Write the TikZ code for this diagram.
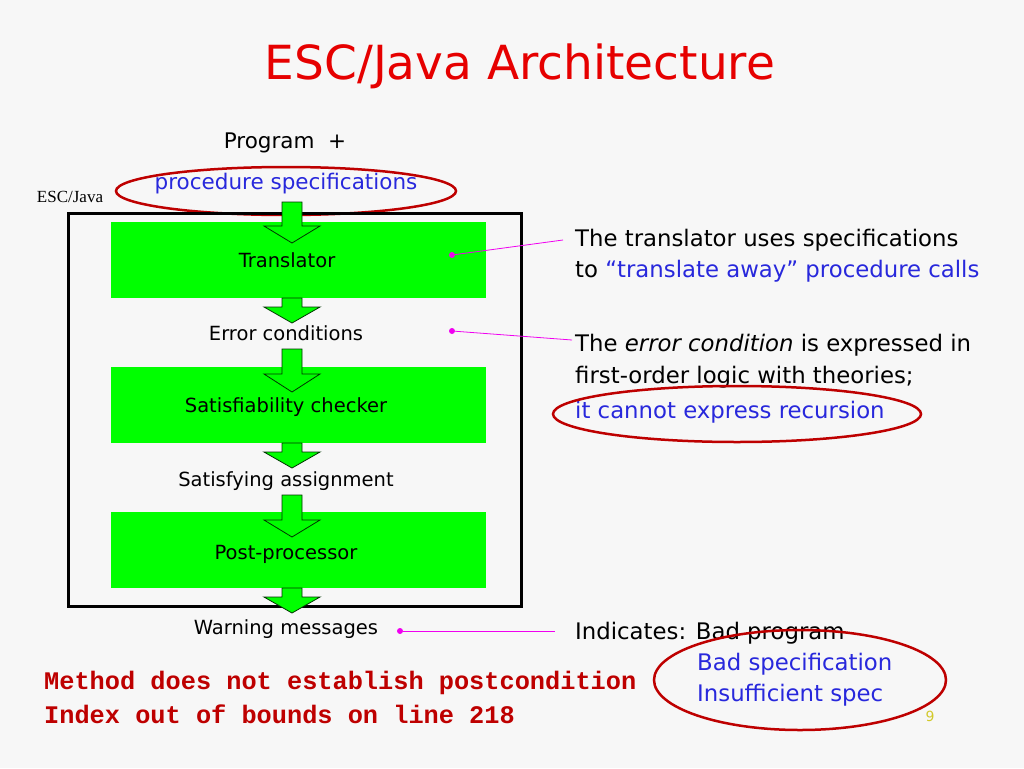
\documentclass[tikz,border=0pt]{standalone}
\usepackage{fontspec}
\setmainfont{DejaVu Sans}
\setmonofont{Liberation Mono}
\newfontfamily\serifesc{Liberation Serif}
\usetikzlibrary{shapes.geometric}
\definecolor{tred}{RGB}{230,0,0}
\definecolor{tblue}{RGB}{40,40,220}
\definecolor{gfill}{RGB}{0,255,0}
\definecolor{dred}{RGB}{190,0,0}
\definecolor{pinkc}{RGB}{240,0,240}
\begin{document}
\begin{tikzpicture}[x=1pt,y=-1pt,
  gbox/.style={fill=gfill,draw=none},
  lab/.style={font=\fontsize{19.5}{22}\selectfont,inner sep=0pt},
  rt/.style={font=\fontsize{22.8}{26}\selectfont,anchor=west,inner sep=0pt},
  redell/.style={draw=dred,line width=2.5pt},
  pink/.style={draw=pinkc,line width=0.8pt},
  dotc/.style={circle,fill=pinkc,inner sep=0pt,minimum size=6pt}]
\useasboundingbox[fill=white!97!black] (0,0) rectangle (1024,768);
\node[font=\fontsize{47}{52}\selectfont,text=tred] (title) at (520,66) {ESC/Java Architecture};
\node[lab,font=\fontsize{21.5}{24}\selectfont] (prog) at (285,143) {Program\ \ +};
\node[lab,font=\fontsize{21.5}{24}\selectfont,text=tblue] (spec) at (286,184) {procedure specifications};
\node[redell,ellipse,minimum width=340pt,minimum height=48pt] (e1) at (286,191) {};
\node[font=\fontsize{17}{19}\selectfont\serifesc,inner sep=0pt] (esc) at (70,197) {ESC/Java};
\draw[line width=3pt] (68,213) rectangle (521,606);
\path[gbox] (111,222) rectangle (486,298);
\path[gbox] (111,367) rectangle (486,443);
\path[gbox] (111,512) rectangle (486,588);
\foreach \t/\b/\p in {202/226/243, 298/307/323, 349/374/392, 443/452/468, 495/520/537, 588/597/613}{
  \draw[fill=gfill,draw=black!80!green,line width=0.8pt] (282,\t) -- (302,\t) -- (302,\b) -- (320,\b) -- (292,\p) -- (264,\b) -- (282,\b) -- cycle;
}
\node[lab] (tr) at (287,260) {Translator};
\node[lab] (ec) at (286,333) {Error conditions};
\node[lab] (sc) at (286,407) {Satisfiability checker};
\node[lab] (sa) at (286,481) {Satisfying assignment};
\node[lab] (pp) at (286,554) {Post-processor};
\node[lab] (wm) at (286,629) {Warning messages};
\node[rt] (r1) at (575,240) {The translator uses specifications};
\node[rt] (r2) at (575,271) {to \textcolor{tblue}{“translate away” procedure calls}};
\node[rt] (r3) at (575,345) {The \textit{error condition} is expressed in};
\node[rt] (r4) at (575,377) {first-order logic with theories;};
\node[rt,text=tblue] (r5) at (575,412) {it cannot express recursion};
\node[redell,ellipse,minimum width=368pt,minimum height=56pt] (e2) at (737,414) {};
\node[rt] (r6) at (575,633) {Indicates: Bad program};
\node[rt,text=tblue] (r7) at (697,664) {Bad specification};
\node[rt,text=tblue] (r8) at (697,695) {Insufficient spec};
\node[redell,ellipse,minimum width=292pt,minimum height=100pt] (e3) at (800,680) {};
\node[font=\fontsize{14}{16}\selectfont,text=yellow!80!black] (pg) at (930,716) {9};
\node[dotc] (d1) at (452,255) {};
\node[dotc] (d2) at (452,331) {};
\node[dotc] (d3) at (400,631) {};
\coordinate (c1) at (563,240);
\coordinate (c2) at (572,340);
\coordinate (c3) at (555,631);
\draw[pink] (d1) -- (c1);
\draw[pink] (d2) -- (c2);
\draw[pink] (d3) -- (c3);
\node[font=\fontsize{25.3}{28}\selectfont\ttfamily\bfseries,text=dred,anchor=west,inner sep=0pt] (m1) at (44,683) {Method does not establish postcondition};
\node[font=\fontsize{25.3}{28}\selectfont\ttfamily\bfseries,text=dred,anchor=west,inner sep=0pt] (m2) at (44,714) {Index out of bounds on line 218};
\end{tikzpicture}
\end{document}
